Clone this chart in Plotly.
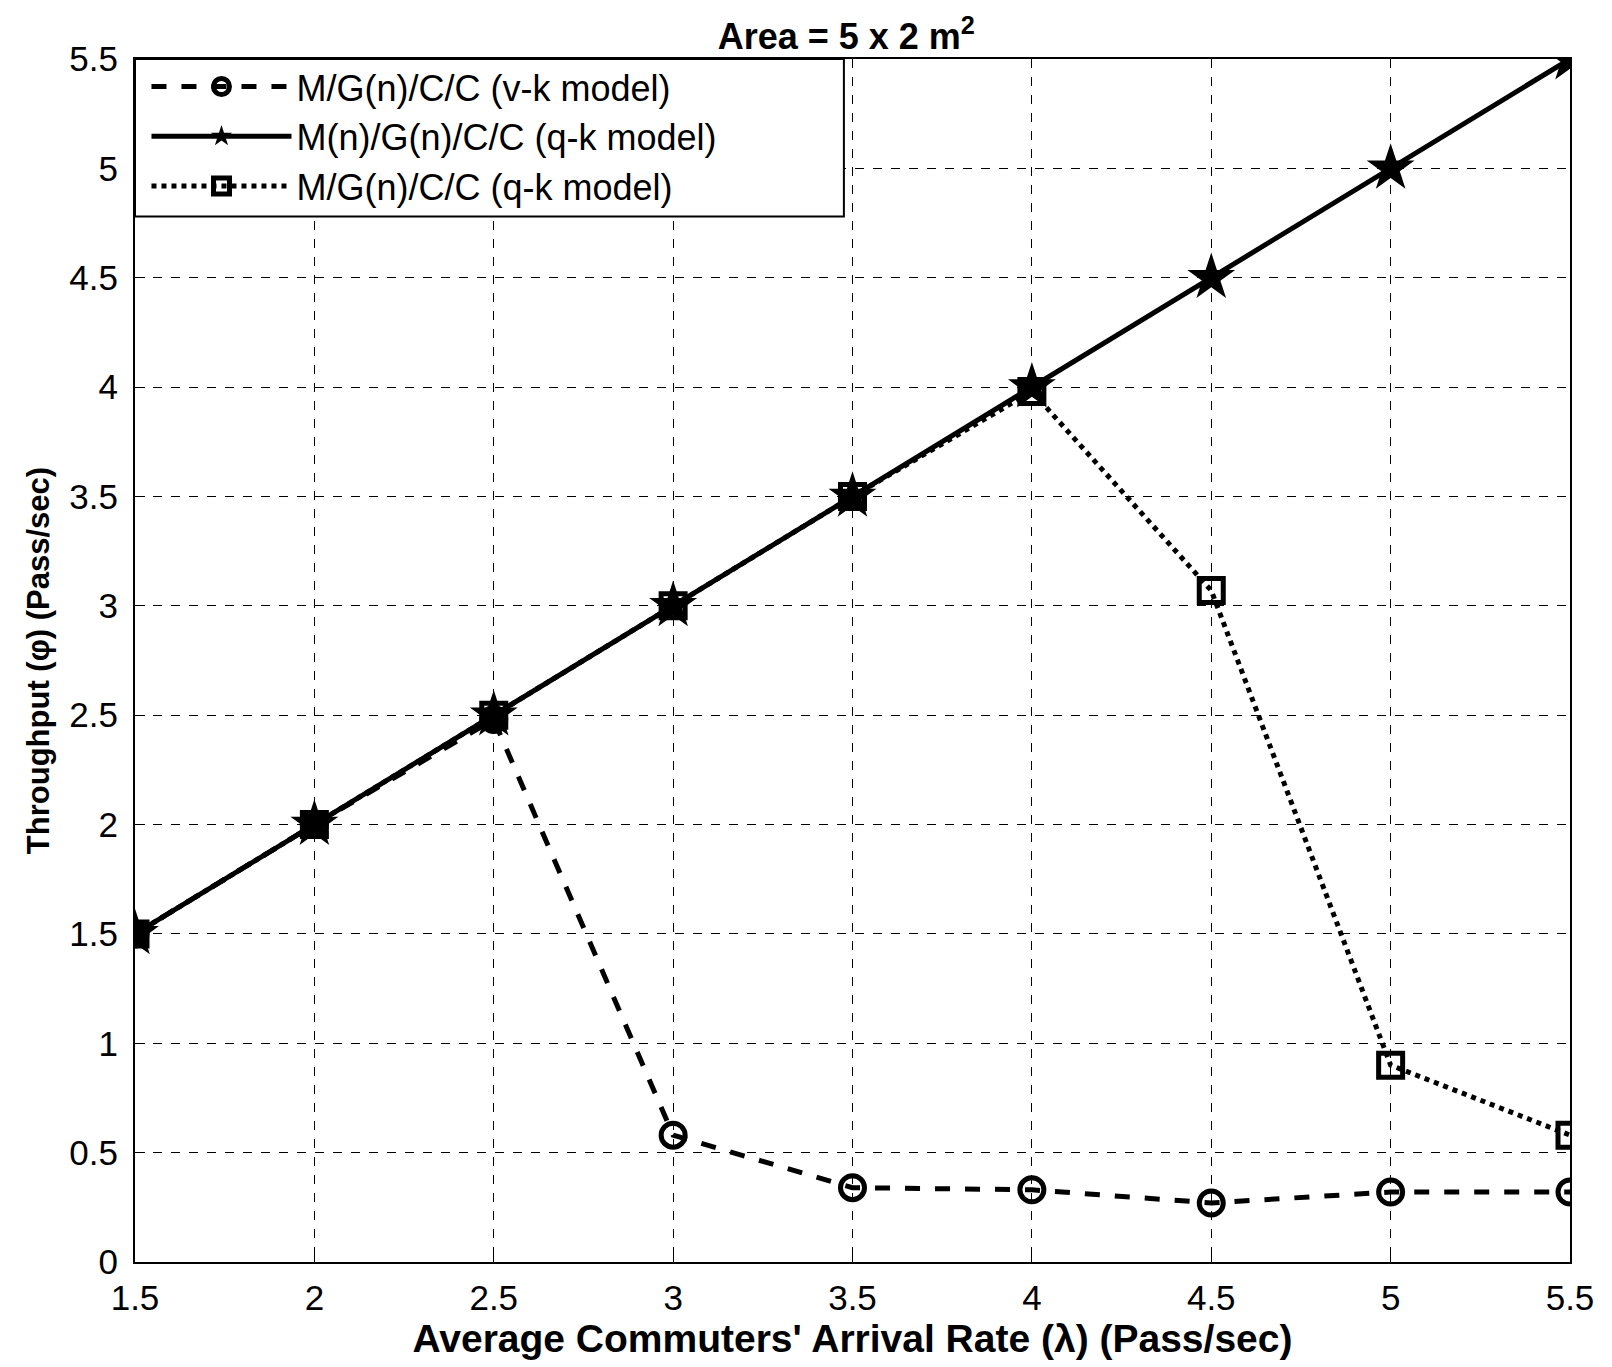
import plotly.graph_objects as go

arrival_rate = [1.5, 2, 2.5, 3, 3.5, 4, 4.5, 5, 5.5]
vk_model = [1.5, 2.0, 2.48, 0.58, 0.34, 0.33, 0.27, 0.32, 0.32]
mn_qk_model = [1.5, 2.0, 2.5, 3.0, 3.5, 4.0, 4.5, 5.0, 5.5]
mg_qk_model = [1.5, 2.0, 2.5, 3.0, 3.5, 3.98, 3.07, 0.9, 0.58]

tick_vals = [0, 0.5, 1, 1.5, 2, 2.5, 3, 3.5, 4, 4.5, 5, 5.5]
x_ticks = [1.5, 2, 2.5, 3, 3.5, 4, 4.5, 5, 5.5]

fig = go.Figure()

fig.add_trace(go.Scatter(
    x=arrival_rate, y=vk_model, mode="lines+markers",
    name="M/G(n)/C/C (v-k model)",
    line=dict(color="black", width=5, dash="dash"),
    marker=dict(symbol="circle-open", size=24, color="black", line=dict(width=5)),
))
fig.add_trace(go.Scatter(
    x=arrival_rate, y=mn_qk_model, mode="lines+markers",
    name="M(n)/G(n)/C/C (q-k model)",
    line=dict(color="black", width=5),
    marker=dict(symbol="star", size=36, color="black"),
))
fig.add_trace(go.Scatter(
    x=arrival_rate, y=mg_qk_model, mode="lines+markers",
    name="M/G(n)/C/C (q-k model)",
    line=dict(color="black", width=5, dash="dot"),
    marker=dict(symbol="square-open", size=24, color="black", line=dict(width=5)),
))

axis_common = dict(
    showline=True, linecolor="black", linewidth=2, mirror=True,
    showgrid=True, gridcolor="black", gridwidth=1, griddash="dash",
    zeroline=False, ticks="inside", ticklen=10, tickcolor="black",
    tickfont=dict(family="Liberation Sans", size=35, color="black"),
)

fig.update_xaxes(
    range=[1.5, 5.5], tickvals=x_ticks, ticklabelstandoff=4,
    title=dict(text="<b>Average Commuters' Arrival Rate (λ) (Pass/sec)</b>",
               font=dict(family="Liberation Sans", size=39, color="black"), standoff=4),
    **axis_common,
)
fig.update_yaxes(
    range=[0, 5.5], tickvals=tick_vals, ticklabelstandoff=8,
    title=dict(text="<b>Throughput (φ) (Pass/sec)</b>",
               font=dict(family="Liberation Sans", size=31, color="black"), standoff=10),
    **axis_common,
)

# legend frame (box in the upper-left corner of the axes)
fig.add_shape(type="rect", xref="paper", yref="paper",
              x0=0, x1=0.494, y0=0.869, y1=1,
              fillcolor="white", line=dict(color="black", width=2), layer="above")

fig.update_layout(
    width=1612, height=1367,
    margin=dict(l=127, r=50, t=51, b=113),
    paper_bgcolor="white", plot_bgcolor="white",
    title=dict(text="<b>Area = 5 x 2 m<sup>2</sup></b>", x=0.52, xanchor="center",
               yref="container", y=0.979, yanchor="middle",
               font=dict(family="Liberation Sans", size=36, color="black")),
    legend=dict(x=0.008, y=1.002, xanchor="left", yanchor="top",
                bgcolor="rgba(0,0,0,0)", borderwidth=0,
                font=dict(family="Liberation Sans", size=36, color="black"),
                itemwidth=140, tracegroupgap=0),
    showlegend=True,
)

fig.write_html("out.html")
